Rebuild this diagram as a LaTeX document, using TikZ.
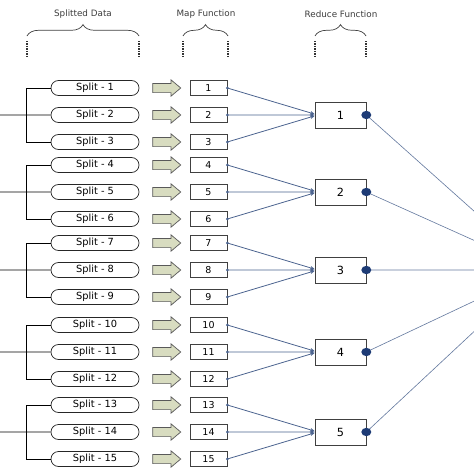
\documentclass[tikz,border=0pt]{standalone}
\usepackage{fontspec}
\setmainfont{DejaVu Sans}
\usetikzlibrary{shapes.misc,shapes.arrows,decorations.pathreplacing,arrows.meta}
\definecolor{linkblue}{RGB}{74,98,142}
\definecolor{dotblue}{RGB}{30,60,118}
\definecolor{arrowfill}{RGB}{216,220,192}
\definecolor{textgray}{RGB}{60,60,60}
\begin{document}
\begin{tikzpicture}[scale=0.2]
\tikzstyle{every node}+=[inner sep=0pt]
\tikzstyle{header}=[text=textgray, font=\fontsize{5}{6}\selectfont]
\tikzstyle{splitbox}=[draw=black!85, rounded rectangle, minimum width=1.76cm, minimum height=0.3cm, font=\fontsize{5.6}{6}\selectfont]
\tikzstyle{fatarrow}=[draw=black!65, fill=arrowfill, single arrow, inner ysep=0.085cm, single arrow head extend=0.07cm, single arrow tip angle=80, minimum height=0.56cm]
\tikzstyle{mapbox}=[draw=black!75, minimum width=0.74cm, minimum height=0.3cm, font=\fontsize{5.4}{6}\selectfont]
\tikzstyle{reducebox}=[draw=black!75, minimum width=1.02cm, minimum height=0.52cm, font=\fontsize{6.4}{7}\selectfont]
\tikzstyle{link}=[linkblue, line width=0.45pt, -{Stealth[length=2.6pt,width=2.2pt]}]
\tikzstyle{outlink}=[linkblue!85, line width=0.35pt]
\tikzstyle{brace}=[black!75, decorate, decoration={brace, amplitude=6.5pt}]
\tikzstyle{guide}=[black!80, dash pattern=on 0.8pt off 0.6pt, line width=0.6pt]
\useasboundingbox (0,0) rectangle (47.4,-47.4);
\clip (0,0) rectangle (47.4,-47.4);
% headers
\node [header] (hsplit) at (8.3,-1.45) {Splitted Data};
\node [header] (hmap) at (20.6,-1.45) {Map Function};
\node [header] (hreduce) at (34.1,-1.45) {Reduce Function};
\draw [brace] (2.7,-3.6) -- (13.9,-3.6);
\draw [brace] (18.3,-3.6) -- (22.8,-3.6);
\draw [brace] (31.5,-3.6) -- (36.6,-3.6);
\foreach \x in {2.7,13.9,18.3,22.8,31.5,36.6}
  \draw [guide] (\x,-4.1) -- (\x,-5.6);
% splits, map tasks
\foreach \i/\y in {1/8.8,2/11.5,3/14.2,4/16.5,5/19.2,6/21.9,7/24.3,8/27.0,9/29.7,10/32.5,11/35.2,12/37.9,13/40.5,14/43.2,15/45.9} {
  \node [splitbox] (s\i) at (9.5,-\y) {Split - \i};
  \node [fatarrow] (a\i) at (16.4,-\y) {};
  \node [mapbox] (m\i) at (20.85,-\y) {\i};
}
% reducers
\coordinate (out) at (54,-27.0);
\foreach \j in {1,...,5} {
  \pgfmathtruncatemacro{\ta}{3*\j-2}
  \pgfmathtruncatemacro{\tb}{3*\j-1}
  \pgfmathtruncatemacro{\tc}{3*\j}
  \path (s\tb.center) -- coordinate[pos=0] (mid\j) (s\tb.center);
  \node [reducebox] (r\j) at (34.05,0 |- mid\j) {\j};
  \coordinate (in\j) at (0,0 |- mid\j);
  \draw [black] (in\j) -- (s\tb.west);
  \draw [black] (s\ta.west) -- ++(-2.4,0) |- (s\tc.west);
  \draw [link] (m\ta.east) -- ([yshift=0.9mm]r\j.west);
  \draw [link] (m\tb.east) -- (r\j.west);
  \draw [link] (m\tc.east) -- ([yshift=-0.9mm]r\j.west);
  \foreach \k in {\ta,\tb,\tc}
    \fill [linkblue] (m\k.east) circle (0.16);
  \draw [outlink] (r\j.east) -- (out);
  \fill [dotblue] (r\j.east) ellipse (0.5 and 0.42);
}
\end{tikzpicture}
\end{document}
